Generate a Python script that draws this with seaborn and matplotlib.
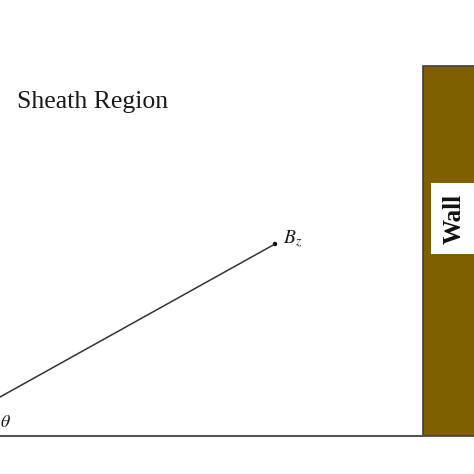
import matplotlib
matplotlib.use("Agg")
import matplotlib.pyplot as plt
import seaborn as sns
import pandas as pd
from matplotlib.patches import Rectangle

# Diagram geometry (pixel-like units, y measured downward)
field_x = [0, 275]
field_y = [397, 244]
point_x = [275]
point_y = [244]
ground_x = [0, 423]
ground_y = [436, 436]
wall_left, wall_top, wall_bottom = 423, 66, 436
labels = ["Sheath Region", "Wall", r"$B_z$", r"$\theta$"]

sns.set_theme(style="white")
plt.rcParams['font.family'] = ['Liberation Serif', 'DejaVu Serif']
plt.rcParams['mathtext.fontset'] = 'stix'

fig = plt.figure(figsize=(4.74, 4.74), dpi=100)
ax = fig.add_axes([0, 0, 1, 1])
ax.set_xlim(0, 474)
ax.set_ylim(474, 0)
ax.axis('off')

# wall
ax.add_patch(Rectangle((wall_left, wall_top), 60, wall_bottom - wall_top,
                       facecolor='#7f5f00', edgecolor='#404040', lw=1.2, zorder=1))
ax.add_patch(Rectangle((431, 183), 50, 71, facecolor='white', edgecolor='none', zorder=2))
ax.text(454, 219, labels[1], rotation=90, ha='center', va='center',
        fontsize=18, color='#111111', fontweight='bold', zorder=3)

# ground line
sns.lineplot(x=ground_x, y=ground_y, ax=ax, color='#555555', lw=1.5,
             estimator=None, sort=False)
# field line
sns.lineplot(x=field_x, y=field_y, ax=ax, color='#333333', lw=1.1,
             estimator=None, sort=False)
sns.scatterplot(x=point_x, y=point_y, ax=ax, color='black', s=10, edgecolor='none')

ax.text(17, 108, labels[0], fontsize=18.5, color='#1a1a1a', va='baseline')
ax.text(283, 244, labels[2], fontsize=14, color='#1a1a1a', va='baseline')
ax.text(0, 427, labels[3], fontsize=13, color='#1a1a1a', va='baseline')

fig.savefig("out.png", dpi=100)
